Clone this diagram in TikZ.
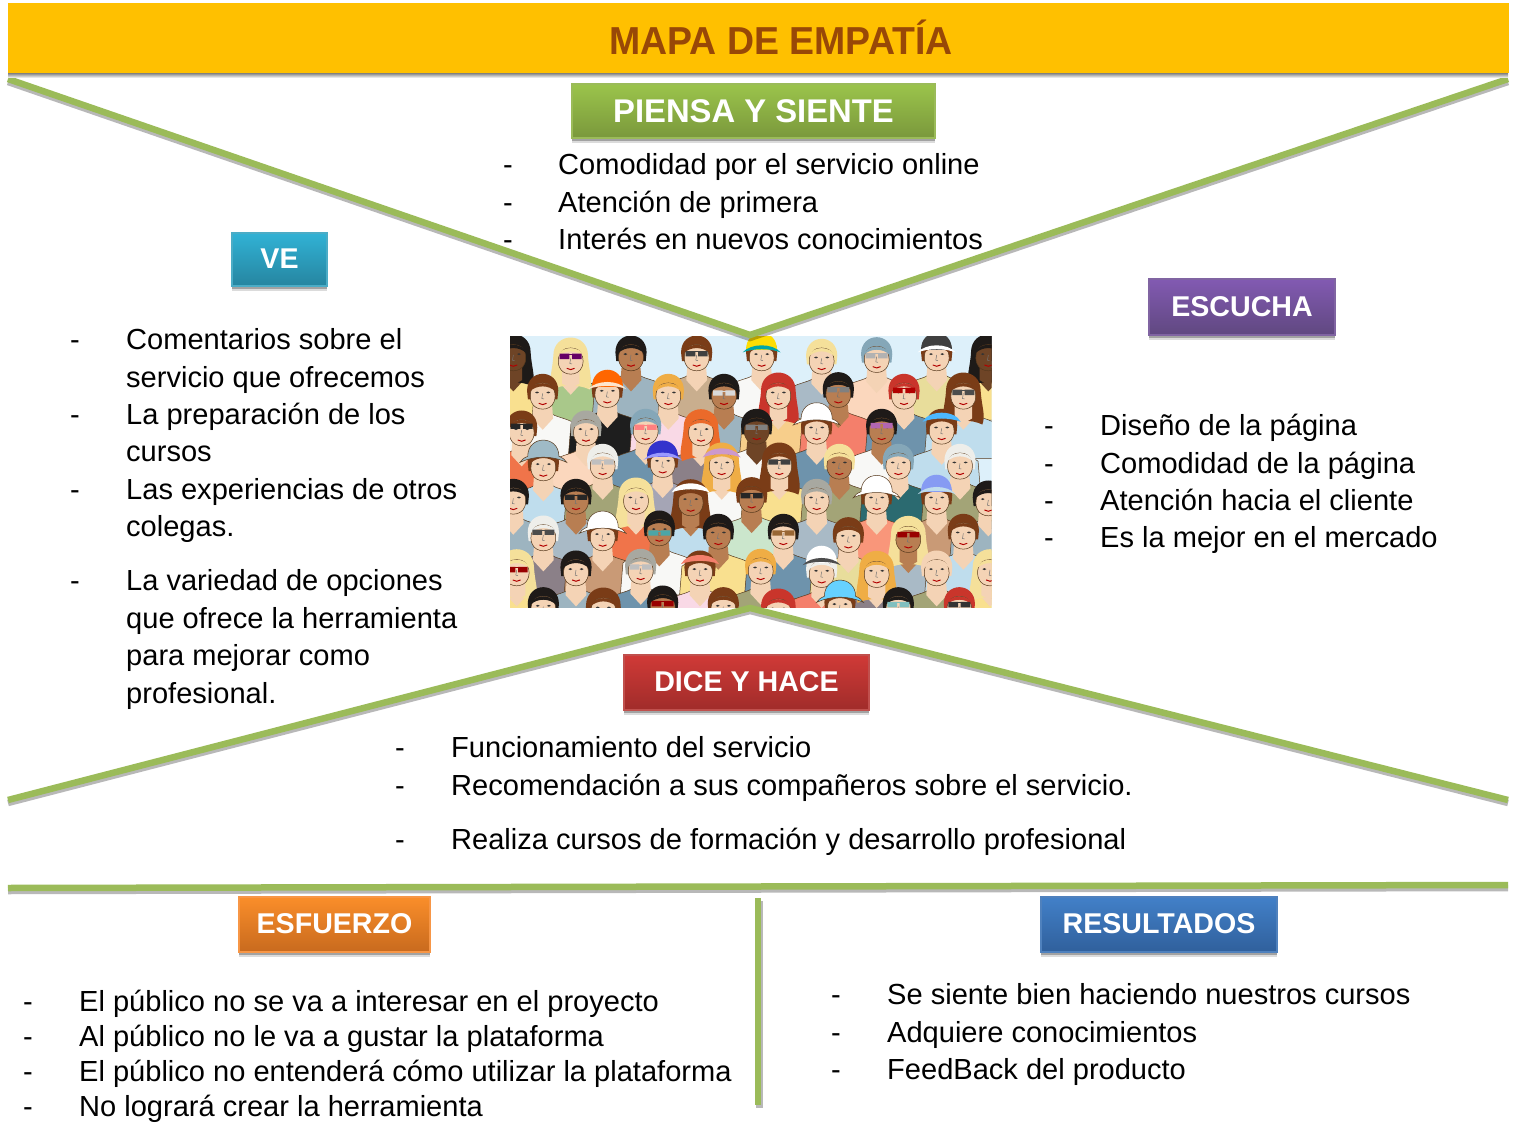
\documentclass[tikz,border=0pt]{standalone}
\usepackage{fontspec}
\setmainfont{Liberation Sans}
\usetikzlibrary{shadows}
\definecolor{gLine}{HTML}{9BBB59}
\definecolor{tiBg}{HTML}{FFC000}\definecolor{tiTx}{HTML}{984807}
\definecolor{gnD}{HTML}{9BBB59}\definecolor{gnT}{HTML}{9BC44B}\definecolor{gnB}{HTML}{7A983C}
\definecolor{cyD}{HTML}{4BACC6}\definecolor{cyT}{HTML}{31B2D5}\definecolor{cyB}{HTML}{2685A0}
\definecolor{puD}{HTML}{8064A2}\definecolor{puT}{HTML}{825AB2}\definecolor{puB}{HTML}{604880}
\definecolor{reD}{HTML}{C0504D}\definecolor{reT}{HTML}{D03A37}\definecolor{reB}{HTML}{A02C2A}
\definecolor{orD}{HTML}{F79646}\definecolor{orT}{HTML}{FA8E2A}\definecolor{orB}{HTML}{C86A1E}
\definecolor{blD}{HTML}{4F81BD}\definecolor{blT}{HTML}{4280C8}\definecolor{blB}{HTML}{30609C}
\definecolor{skL}{HTML}{F4D3B5}\definecolor{skB}{HTML}{B87E52}\definecolor{skD}{HTML}{6E4426}\definecolor{skT}{HTML}{D49A6A}
\definecolor{hBlk}{HTML}{1E1A18}\definecolor{hBrn}{HTML}{7A3C17}\definecolor{hBld}{HTML}{F5E09A}\definecolor{hGry}{HTML}{A8A8A0}
\definecolor{hBlu}{HTML}{85A7B8}\definecolor{hRed}{HTML}{C9352B}\definecolor{hOrg}{HTML}{EB6A2A}\definecolor{hGld}{HTML}{EFAD45}\definecolor{hWht}{HTML}{EEEEEA}
\definecolor{sYel}{HTML}{F9E08F}\definecolor{sGrn}{HTML}{A9C88A}\definecolor{sGry}{HTML}{9DB4C0}\definecolor{sTan}{HTML}{C9AE8E}
\definecolor{sWht}{HTML}{F8F8F6}\definecolor{sBlu}{HTML}{A9BAC6}\definecolor{sPch}{HTML}{FBD7BD}\definecolor{sCrm}{HTML}{E8DD9B}
\definecolor{sBlk}{HTML}{1E1E1E}\definecolor{sPnk}{HTML}{F9D9E6}\definecolor{sOrg}{HTML}{F7CE8B}\definecolor{sCor}{HTML}{F47F6B}
\definecolor{sStl}{HTML}{6E93AC}\definecolor{sSky}{HTML}{BFDDED}\definecolor{sStr}{HTML}{F0744A}\definecolor{sPur}{HTML}{8B8088}
\definecolor{sOlv}{HTML}{A3A477}\definecolor{sTea}{HTML}{2B6A70}\definecolor{sMnt}{HTML}{CBE6CC}\definecolor{sSal}{HTML}{F9967A}
\definecolor{sBrw}{HTML}{C99A76}\definecolor{sLav}{HTML}{A5A5B5}
\definecolor{crowdSky}{HTML}{DDF0FA}
\tikzset{
  greenline/.style={line width=6.5pt,gLine},
  lineshadow/.style={line width=6.5pt,black,opacity=.28},
  titlefont/.style={font=\fontsize{39}{44}\selectfont\bfseries},
  tag/.style={draw=#1D,top color=#1T,bottom color=#1B,line width=1.5pt,
    general shadow={shadow xshift=0pt,shadow yshift=-5pt,opacity=.14,fill=black},
    general shadow={shadow xshift=0pt,shadow yshift=-3pt,opacity=.26,fill=black},
    text=white,inner sep=0pt,font=\fontsize{28.6}{34}\selectfont\bfseries},
  bodytxt/.style={anchor=base west,inner sep=0pt,font=\fontsize{29.05}{34}\selectfont},
  outl/.style={draw=black!55!brown,line width=.5pt},
  head/.style={shift={(#1)},scale=1.3},
}
\newcommand\tagtext[1]{\raisebox{1.5pt}{#1}}
\newcommand\pBody[2]{%
  \fill[#2,outl] (-90,150) -- (-84,76) .. controls (-62,58) and (-34,56) .. (-22,48) -- (22,48) .. controls (34,56) and (62,58) .. (84,76) -- (90,150) -- cycle;
  \fill[#1] (-22,30) -- (22,30) -- (24,58) -- (0,84) -- (-24,58) -- cycle;}
\newcommand\pFace[2]{%
  \fill[#2] (-36,-6) .. controls (-36,-58) and (36,-58) .. (36,-6) -- (34,14) -- (-34,14) -- cycle;
  \fill[#1,outl] (0,-24) .. controls (-32,-24) and (-31,10) .. (-26,20) .. controls (-18,42) and (18,42) .. (26,20) .. controls (31,10) and (32,-24) .. (0,-24) -- cycle;
  \fill[#2] (-30,-4) .. controls (-24,-30) and (24,-30) .. (30,-4) .. controls (14,-20) and (-14,-20) .. (-30,-4) -- cycle;
  \fill[black!80] (-13,-2) ellipse (4.5 and 2.2) (13,-2) ellipse (4.5 and 2.2);
  \draw[black!55,line width=.5pt] (0,0) -- (-2,12) -- (3,13);
  \draw[red!70!black,line width=1pt] (-9,23) .. controls (-3,27) and (3,27) .. (9,23);}
\newcommand\pPers[5]{\begin{scope}[head={#1,#2}]\pBody{#3}{#5}\pFace{#3}{#4}\end{scope}}
\newcommand\pLong[5]{\begin{scope}[head={#1,#2}]\pBody{#3}{#5}%
  \fill[#4] (-40,-6) .. controls (-40,-62) and (40,-62) .. (40,-6) .. controls (42,30) and (52,50) .. (44,72) .. controls (20,60) and (-20,60) .. (-44,72) .. controls (-52,50) and (-42,30) .. (-40,-6) -- cycle;
  \fill[#3] (-20,30) -- (20,30) -- (20,58) -- (0,70) -- (-20,58) -- cycle;
  \pFace{#3}{#4}\end{scope}}
\newcommand\pGlass[3]{\begin{scope}[shift={(#1,#2)}]\fill[#3] (-33,-9) rectangle (-4,7) (4,-9) rectangle (33,7);\fill[#3] (-5,-8) rectangle (5,-5);\end{scope}}
\newcommand\pCap[4]{\begin{scope}[head={#1,#2}]\fill[#3] (-36,-8) .. controls (-36,-60) and (36,-60) .. (36,-8) -- cycle;\fill[#4] (-44,-2) .. controls (-25,-24) and (25,-24) .. (44,-2) .. controls (20,-12) and (-20,-12) .. (-44,-2) -- cycle;\end{scope}}
\newcommand\pHat[3]{\begin{scope}[head={#1,#2}]\fill[#3,outl] (-36,-10) .. controls (-36,-60) and (36,-60) .. (36,-10) .. controls (46,-6) and (50,-2) .. (54,4) .. controls (20,-12) and (-20,-12) .. (-54,4) .. controls (-50,-2) and (-46,-6) .. (-36,-10) -- cycle;\end{scope}}
\newcommand\pVisor[3]{\begin{scope}[head={#1,#2}]\fill[#3] (-44,-2) .. controls (-30,-30) and (30,-30) .. (44,-2) .. controls (20,-12) and (-20,-12) .. (-44,-2) -- cycle;\end{scope}}
\begin{document}
\begin{tikzpicture}[x=1pt,y=-1pt]
\useasboundingbox (0,0) rectangle (1516,1142);
\fill[white] (0,0) rectangle (1516,1142);
% crowd picture
\begin{scope}[shift={(500,330)},x=.33333pt,y=-.33333pt]
\clip (30,18) rectangle (1475,833);
\fill[crowdSky] (30,18) rectangle (1475,833);
% row 1
\pLong{40}{75}{skD}{hBlk}{sYel}
\pLong{212}{85}{skL}{hBld}{sGrn}\pGlass{212}{80}{violet!80!black}
\pPers{393}{75}{skB}{hBlk}{sGry}
\pPers{590}{75}{skL}{hBrn}{sTan}\pGlass{590}{72}{black!75}
\pPers{785}{75}{skL}{hBrn}{sWht}\pCap{785}{70}{yellow!80!orange}{teal!70!cyan}
\pPers{965}{85}{skL}{hBld}{sBlu}
\pPers{1130}{80}{skL}{hBlu}{sPch}\pGlass{1130}{78}{gray!60}
\pPers{1310}{75}{skL}{hBrn}{sCrm}\pCap{1310}{70}{black!75}{white}
\pLong{1465}{75}{skD}{hBlk}{sYel}
% row 2
\pPers{128}{190}{skL}{hBrn}{sWht}
\pPers{322}{185}{skL}{hBrn}{sBlk}\pCap{322}{180}{orange!80!red}{white!80!orange}
\pPers{505}{190}{skL}{hGld}{sPnk}
\pPers{672}{190}{skB}{hBlk}{sGry}\pGlass{672}{190}{white!85!black}
\pLong{835}{190}{skL}{hRed}{sOrg}
\pPers{1015}{185}{skB}{hBlk}{sCor}\pGlass{1015}{180}{gray}
\pPers{1212}{190}{skL}{hRed}{sStl}\pGlass{1212}{182}{red!70!black}
\pLong{1390}{190}{skL}{hBrn}{sSky}\pGlass{1390}{188}{black!70}
% row 3
\pPers{65}{300}{skL}{hBrn}{sStr}\pGlass{65}{290}{black!85}
\pPers{258}{300}{skL}{hGry}{sPch}
\pPers{437}{295}{skL}{hBlu}{sStl}\pGlass{437}{293}{red!50}
\pLong{603}{300}{skL}{hOrg}{sPur}
\pPers{770}{295}{skD}{hBlk}{sWht}\pGlass{770}{293}{gray}
\pPers{950}{295}{skL}{hBrn}{sStl}\pHat{950}{280}{white}
\pPers{1145}{295}{skB}{hBlk}{sWht}\pGlass{1145}{288}{violet!60}
\pPers{1325}{295}{skL}{hBrn}{sSky}\pVisor{1325}{278}{blue!40!cyan!70}
% row 4
\pPers{130}{405}{skL}{hBrn}{sSky}\pHat{130}{392}{cyan!30!gray!70}
\pPers{308}{400}{skL}{hWht}{sOlv}\pGlass{308}{397}{gray!50}
\pPers{488}{395}{skL}{hBrn}{sLav}\pCap{488}{392}{blue!60!gray}{blue!40}
\pLong{665}{400}{skL}{hGld}{sWht}\pVisor{665}{385}{violet!40}
\pLong{838}{400}{skL}{hBrn}{sYel}\pGlass{838}{397}{black!75}
\pPers{1018}{400}{skB}{hBld}{sOlv}
\pPers{1195}{400}{skL}{hBlu}{sTea}
\pPers{1380}{400}{skL}{hWht}{sOlv}
% row 5
\pPers{40}{505}{skL}{hBlk}{sGry}
\pPers{228}{505}{skB}{hBlk}{sBlu}\pGlass{228}{503}{black!85}
\pLong{408}{505}{skL}{hBld}{sStr}
\pLong{572}{510}{skB}{hBrn}{sSky}\pVisor{572}{490}{white}
\pPers{755}{500}{skB}{hBrn}{sMnt}\pGlass{755}{498}{black!85}
\pPers{950}{505}{skL}{hGry}{sBlu}
\pPers{1130}{505}{skL}{hBrn}{sSal}\pHat{1130}{498}{white}
\pPers{1310}{505}{skL}{hBrn}{sBrw}\pCap{1310}{495}{sSky!70!blue}{sSky}
\pPers{1465}{510}{skL}{hBlk}{sGry}
% row 6
\pPers{130}{615}{skL}{hWht}{sPur}\pGlass{130}{608}{black!70}
\pPers{308}{615}{skL}{hBrn}{sBrw}\pHat{308}{605}{white}
\pPers{478}{600}{skB}{hBlk}{sWht}\pGlass{478}{610}{teal!70}
\pPers{655}{610}{skB}{hBlk}{sYel}
\pPers{850}{610}{skL}{hBlk}{sStl}\pGlass{850}{610}{brown!80!black}
\pPers{1045}{620}{skL}{hBrn}{sCrm}
\pLong{1225}{620}{skB}{hBld}{sBlu}\pGlass{1225}{615}{red!60!black}
\pPers{1390}{610}{skL}{hBrn}{sSky}
% row 7
\pLong{50}{720}{skL}{hBld}{sYel}\pGlass{50}{720}{red!60!black}
\pPers{228}{720}{skL}{hBlk}{sGry}
\pPers{422}{715}{skL}{hGry}{sStl}\pGlass{422}{712}{gray!50}
\pPers{600}{720}{skL}{hBrn}{sPnk}\pVisor{600}{705}{sCor}
\pPers{782}{715}{skL}{hGld}{sOlv}
\pPers{965}{725}{skL}{hWht}{sCor}\pCap{965}{708}{white}{black!70}
\pLong{1130}{725}{skL}{hGld}{sPur}
\pPers{1310}{720}{skL}{skL}{sOlv}
\pLong{1470}{720}{skL}{hBld}{sYel}
% row 8
\pPers{130}{830}{skL}{hBlk}{sGry}
\pLong{310}{835}{skL}{hBrn}{sGrn}
\pPers{488}{825}{skB}{hBlk}{sPnk}\pGlass{488}{822}{red!60!black}
\pPers{670}{830}{skL}{hBrn}{sCrm}
\pLong{835}{838}{skL}{hRed}{sStr}
\pPers{1020}{825}{skL}{hBrn}{sStl}\pHat{1020}{812}{blue!30!cyan!60}
\pPers{1195}{830}{skL}{hBlk}{sGry}\pGlass{1195}{825}{teal!50}
\pPers{1378}{830}{skL}{hRed}{sYel}\pGlass{1378}{825}{black!80}
\end{scope}
% anchors of the lines
\coordinate (tl) at (8,79);\coordinate (tm) at (750,335);\coordinate (tr) at (1508,79);
\coordinate (bl) at (8,800);\coordinate (bm) at (750,608);\coordinate (br) at (1508,800);
\coordinate (hl) at (8,888);\coordinate (hr) at (1508,885);
\coordinate (vt) at (758,898);\coordinate (vb) at (758,1105);
\draw[lineshadow,transform canvas={yshift=-3pt}] (tl) -- (tm) -- (tr);
\draw[lineshadow,transform canvas={yshift=-3pt}] (bl) -- (bm) -- (br);
\draw[lineshadow,transform canvas={yshift=-3pt}] (hl) -- (hr);
\draw[lineshadow,transform canvas={xshift=1.5pt,yshift=-3pt}] (vt) -- (vb);
\draw[greenline,line join=miter] (tl) -- (tm) -- (tr);
\draw[greenline,line join=miter] (bl) -- (bm) -- (br);
\draw[greenline] (hl) -- (hr);
\draw[greenline] (vt) -- (vb);
% title
\shade[top color=black!50,bottom color=white] (8,73) rectangle (1508,78);
\node[fill=tiBg,minimum width=1501pt,minimum height=70pt,inner sep=0pt] (title) at (758.5,38) {};
\node[inner sep=0pt,text=tiTx,titlefont,anchor=base,transform shape,xscale=.96] (titletext) at (781,55) {MAPA DE EMPATÍA};
% labels
\node[tag=gn,minimum width=363pt,minimum height=54pt,font=\fontsize{32.8}{38}\selectfont\bfseries] (piensa) at (753.5,111) {\raisebox{-1.5pt}{PIENSA Y SIENTE}};
\node[tag=cy,minimum width=95pt,minimum height=53pt] (ve) at (279.5,259.5) {\tagtext{VE}};
\node[tag=pu,minimum width=186pt,minimum height=56pt] (escucha) at (1242,307) {\tagtext{ESCUCHA}};
\node[tag=re,minimum width=245pt,minimum height=55pt] (dice) at (746.5,682.5) {\tagtext{DICE Y HACE}};
\node[tag=or,minimum width=191pt,minimum height=55pt] (esfuerzo) at (334.5,924.5) {\tagtext{ESFUERZO}};
\node[tag=bl,minimum width=236pt,minimum height=55pt] (resultados) at (1159,924.5) {\tagtext{RESULTADOS}};
% piensa list
\foreach \n/\yy/\t in {a/175/Comodidad por el servicio online,b/213/Atención de primera,c/250/Interés en nuevos conocimientos}{
  \node[bodytxt] (pd\n) at (503,\yy) {-}; \node[bodytxt] (pt\n) at (558,\yy) {\t};}
% ve list
\foreach \n/\yy in {a/349,b/424,c/499,d/590}{\node[bodytxt] (vd\n) at (70,\yy) {-};}
\foreach \n/\yy/\t in {a/349/Comentarios sobre el,b/387/servicio que ofrecemos,c/424/La preparación de los,d/461/cursos,e/499/Las experiencias de otros,f/536/colegas.,g/590/La variedad de opciones,h/628/que ofrece la herramienta,i/665/para mejorar como,j/703/profesional.}{
  \node[bodytxt] (vt\n) at (126,\yy) {\t};}
% escucha list
\foreach \n/\yy/\t in {a/435/Diseño de la página,b/473/Comodidad de la página,c/510/Atención hacia el cliente,d/547/Es la mejor en el mercado}{
  \node[bodytxt] (ed\n) at (1044,\yy) {-}; \node[bodytxt] (et\n) at (1100,\yy) {\t};}
% dice list
\foreach \n/\yy/\t in {a/757/Funcionamiento del servicio,b/795/Recomendación a sus compañeros sobre el servicio.,c/849/Realiza cursos de formación y desarrollo profesional}{
  \node[bodytxt] (dd\n) at (395,\yy) {-}; \node[bodytxt] (dt\n) at (451,\yy) {\t};}
% esfuerzo list
\foreach \n/\yy/\t in {a/1011/El público no se va a interesar en el proyecto,b/1046/Al público no le va a gustar la plataforma,c/1081/El público no entenderá cómo utilizar la plataforma,d/1116/No logrará crear la herramienta}{
  \node[bodytxt] (fd\n) at (23,\yy) {-}; \node[bodytxt] (ft\n) at (79,\yy) {\t};}
% resultados list
\foreach \n/\yy/\t in {a/1004/Se siente bien haciendo nuestros cursos,b/1042/Adquiere conocimientos,c/1079/FeedBack del producto}{
  \node[bodytxt] (rd\n) at (831,\yy) {-}; \node[bodytxt] (rt\n) at (887,\yy) {\t};}
\end{tikzpicture}
\end{document}
